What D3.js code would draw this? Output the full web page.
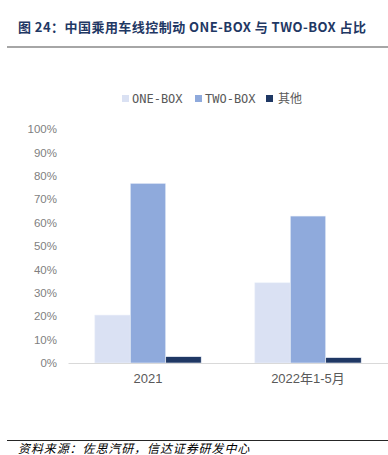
<!DOCTYPE html>
<html>
<head>
<meta charset="utf-8">
<script src="https://cdn.jsdelivr.net/npm/d3@7"></script>
<style>
body { margin: 0; background: #fff; }
</style>
</head>
<body>
<script>
var categories = ["2021", "2022年1-5月"];
var seriesNames = ["ONE-BOX", "TWO-BOX", "其他"];
var oneBox = [0.205, 0.343];
var twoBox = [0.768, 0.628];
var other = [0.027, 0.023];
var yTicks = [0, 0.1, 0.2, 0.3, 0.4, 0.5, 0.6, 0.7, 0.8, 0.9, 1.0];
var colors = ["#dae1f3", "#8faadc", "#1f3864"];

var width = 388;
var height = 455;
var svg = d3.select("body")
    .append("svg")
    .attr("width", width)
    .attr("height", height);

// title
svg.append("text")
    .attr("x", 18)
    .attr("y", 32)
    .attr("fill", "#1f3864")
    .attr("font-family", "'Noto Sans CJK SC', sans-serif")
    .attr("font-weight", "bold")
    .attr("font-size", 13)
    .attr("letter-spacing", 0.45)
    .text("图 24：中国乘用车线控制动 ONE-BOX 与 TWO-BOX 占比");
svg.append("line")
    .attr("x1", 7).attr("x2", 388)
    .attr("y1", 47).attr("y2", 47)
    .attr("stroke", "#a6a6a6")
    .attr("stroke-width", 2);

var plot = { left: 68, right: 388, top: 129, bottom: 363 };

var x0 = d3.scaleBand()
    .domain(categories)
    .range([plot.left, plot.right])
    .paddingInner(0.335)
    .paddingOuter(0.1675);
var x1 = d3.scaleBand()
    .domain(seriesNames)
    .range([0, x0.bandwidth()]);
var y = d3.scaleLinear()
    .domain([0, 1])
    .range([plot.bottom, plot.top]);

var yAxis = d3.axisLeft(y)
    .tickValues(yTicks)
    .tickFormat(d3.format(".0%"))
    .tickSize(0)
    .tickPadding(11);
var yg = svg.append("g")
    .attr("transform", "translate(" + plot.left + ",0)")
    .call(yAxis);
yg.select(".domain").remove();
yg.selectAll("text")
    .attr("fill", "#7f7f7f")
    .attr("font-family", "'Liberation Sans', Arial, sans-serif")
    .attr("font-size", 11.5);

var rows = categories.map(function (c, i) {
    return { cat: c, values: [oneBox[i], twoBox[i], other[i]] };
});

var groups = svg.append("g").selectAll("g")
    .data(rows)
    .enter()
    .append("g")
    .attr("transform", function (d) { return "translate(" + x0(d.cat) + ",0)"; });
groups.selectAll("rect")
    .data(function (d) { return d.values.map(function (v, j) { return { name: seriesNames[j], v: v, j: j }; }); })
    .enter()
    .append("rect")
    .attr("x", function (d) { return x1(d.name); })
    .attr("width", x1.bandwidth())
    .attr("y", function (d) { return y(d.v); })
    .attr("height", function (d) { return y(0) - y(d.v); })
    .attr("fill", function (d) { return colors[d.j]; })
    .attr("stroke", "#eef2fa")
    .attr("stroke-width", 0.6);

var xAxis = d3.axisBottom(x0).tickSize(0).tickPadding(11);
var xg = svg.append("g")
    .attr("transform", "translate(0," + plot.bottom + ")")
    .call(xAxis);
xg.select(".domain")
    .attr("stroke", "#d9d9d9")
    .attr("stroke-width", 1.2);
xg.selectAll("text")
    .attr("fill", "#595959")
    .attr("font-family", "'Liberation Sans', 'Noto Sans CJK SC', sans-serif")
    .attr("font-size", 13);

// legend
var legendX = [122, 195, 266];
var legend = svg.append("g").selectAll("g")
    .data(seriesNames)
    .enter()
    .append("g")
    .attr("transform", function (d, i) { return "translate(" + legendX[i] + ",99)"; });
legend.append("rect")
    .attr("x", 0).attr("y", -4)
    .attr("width", 7).attr("height", 7)
    .attr("fill", function (d, i) { return colors[i]; });
legend.append("text")
    .attr("x", function (d, i) { return i === 2 ? 12 : 10; })
    .attr("y", 4)
    .attr("fill", "#595959")
    .attr("font-family", "'DejaVu Sans Mono', 'Noto Sans CJK SC', monospace")
    .attr("font-size", 12)
    .text(function (d) { return d; });

// footer
svg.append("line")
    .attr("x1", 7).attr("x2", 388)
    .attr("y1", 440.5).attr("y2", 440.5)
    .attr("stroke", "#262626")
    .attr("stroke-width", 1);
svg.append("text")
    .attr("x", 18)
    .attr("y", 453)
    .attr("fill", "#000")
    .attr("font-family", "'Noto Sans CJK SC', sans-serif")
    .attr("font-style", "italic")
    .attr("font-size", 12)
    .attr("letter-spacing", 0.9)
    .text("资料来源：佐思汽研，信达证券研发中心");
</script>
</body>
</html>
